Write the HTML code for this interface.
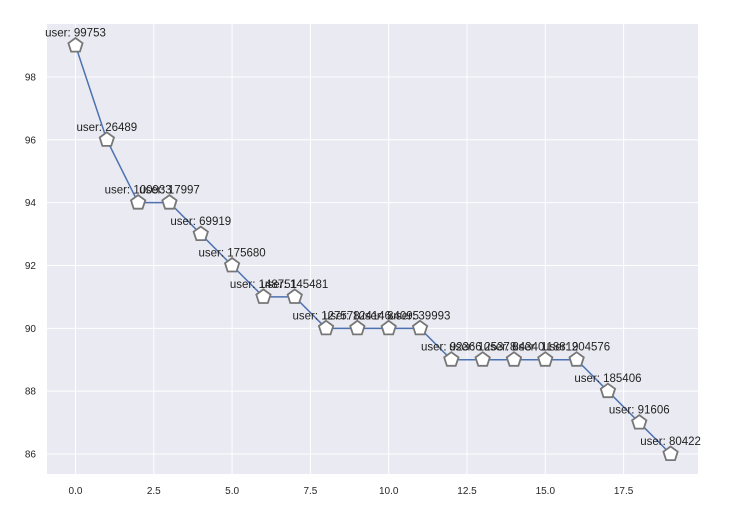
<!DOCTYPE html>
<html><head><meta charset="utf-8"><style>
body{margin:0;background:#fff;}
svg{display:block;font-family:"Liberation Sans",Arial,sans-serif;}
</style></head><body>
<svg id="chart" width="752" height="513">
<rect x="47" y="24" width="651" height="450" fill="#EAEAF2"/>
<g id="grid"></g><g id="ticks"></g><g id="series"></g><g id="labels"></g>
</svg>
<script>
const xs = [0,1,2,3,4,5,6,7,8,9,10,11,12,13,14,15,16,17,18,19];
const values = [99,96,94,94,93,92,91,91,90,90,90,90,89,89,89,89,89,88,87,86];
const users = ["99753","26489","100933","17997","69919","175680","148751","145481","127578","124146","84095","39993","92366","125378","84340","118819","204576","185406","91606","80422"];
const xTicks = [0,2.5,5,7.5,10,12.5,15,17.5];
const xTickLabels = ["0.0","2.5","5.0","7.5","10.0","12.5","15.0","17.5"];
const yTicks = [86,88,90,92,94,96,98];
const NS="http://www.w3.org/2000/svg";
const X=v=>75.5+v*31.32;
const Y=v=>454-(v-86)*31.42;
function mk(tag,attrs,parent){const e=document.createElementNS(NS,tag);for(const k in attrs)e.setAttribute(k,attrs[k]);document.getElementById(parent).appendChild(e);return e;}
xTicks.forEach((t,i)=>{
  const g=mk('line',{x1:X(t),x2:X(t),y1:24,y2:474,stroke:'#fff','stroke-width':1},'grid');
  
  
  const l=mk('text',{x:X(t),y:494,'text-anchor':'middle','font-size':10,fill:'#262626'},'ticks');
  l.textContent=xTickLabels[i];
  
  
});
yTicks.forEach(t=>{
  const g=mk('line',{x1:47,x2:698,y1:Y(t),y2:Y(t),stroke:'#fff','stroke-width':1},'grid');
  
  
  const l=mk('text',{x:36,y:Y(t)+3.5,'text-anchor':'end','font-size':10,fill:'#262626'},'ticks');
  l.textContent=t;
  
  
});
const line=mk('polyline',{points:xs.map((x,i)=>X(x)+','+Y(values[i])).join(' '),fill:'none',stroke:'#4C72B0','stroke-width':1.5},'series');


xs.forEach((x,i)=>{
  const cx=X(x),cy=Y(values[i]),r=7.5;
  let pts=[];for(let k=0;k<5;k++){const a=-Math.PI/2+k*2*Math.PI/5;pts.push((cx+r*Math.cos(a)).toFixed(1)+','+(cy+r*Math.sin(a)).toFixed(1));}
  const m=mk('polygon',{points:pts.join(' '),fill:'#fff',stroke:'#777','stroke-width':1.8},'series');
  
  
  const t=mk('text',{x:cx,y:cy-9,'text-anchor':'middle','font-size':11.5,fill:'#222'},'labels');
  t.textContent='user: '+users[i];
  
  
});
</script>
</body></html>
